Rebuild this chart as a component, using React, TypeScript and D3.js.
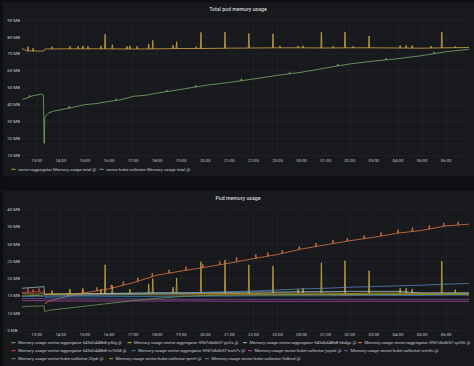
import React from "react";
import * as d3 from "d3";

const W = 474;
const H = 366;

// ---------- time axis (hours after midnight of day 1; 24+ = next day) ----------
const startHour = 12.39;
const endHour = 30.97;

// ---------- top panel: Total pod memory usage ----------
const topTickValues = [10, 20, 30, 40, 50, 60, 70, 80, 90];

const aggTotalHours = [12.39, 12.5, 12.56, 13.0, 13.3, 13.34, 14, 15, 16, 17, 18, 19, 20, 21, 22, 23, 24, 25, 26, 27, 28, 29, 30, 30.95];
const aggTotalValues = [73.0, 72.6, 71.8, 71.7, 71.7, 72.9, 73.0, 73.0, 73.0, 72.9, 73.0, 73.2, 73.2, 73.4, 73.5, 73.6, 73.6, 73.5, 73.6, 73.6, 73.5, 73.4, 73.6, 73.8];
// [hour, base, peak]
const aggTotalSpikes: [number, number, number][] = [
  [12.64, 72.0, 74.3], [12.85, 71.7, 73.4], [13.64, 73.0, 74.3], [14.38, 73.0, 74.5], [14.72, 73.0, 74.5],
  [14.92, 73.0, 74.8], [15.13, 73.0, 74.5], [15.67, 73.0, 74.8], [15.84, 73.0, 81.7], [16.14, 73.0, 75.4],
  [16.75, 72.9, 74.5], [16.87, 72.9, 74.8], [17.17, 72.9, 74.6], [17.65, 73.0, 75.9], [17.82, 73.0, 78.0],
  [18.66, 73.1, 75.2], [18.81, 73.1, 77.2], [19.62, 73.2, 74.3], [19.82, 73.2, 82.7], [20.82, 73.3, 82.9],
  [21.81, 73.5, 82.1], [22.81, 73.6, 81.9], [23.1, 73.6, 74.7], [23.85, 73.6, 74.8], [24.06, 73.6, 74.8],
  [24.82, 73.5, 82.9], [25.31, 73.5, 74.6], [25.8, 73.6, 83.0], [26.14, 73.6, 74.5], [26.8, 73.6, 80.6],
  [28.09, 73.5, 75.0], [28.34, 73.5, 75.0], [28.59, 73.4, 75.0], [29.38, 73.5, 74.7], [29.82, 73.5, 82.9],
  [30.38, 73.7, 74.5],
];

const kubeTotalHours = [12.39, 12.6, 12.8, 13.0, 13.2, 13.28, 13.31, 13.34, 13.5, 13.7, 14, 14.5, 15, 15.5, 16, 16.5, 17, 17.5, 18, 19, 20, 21, 22, 23, 24, 25, 26, 27, 28, 29, 30, 30.95];
const kubeTotalValues = [43.2, 44.0, 45.2, 45.8, 46.3, 45.8, 17.2, 33.0, 35.2, 36.3, 37.1, 38.5, 40.1, 40.8, 42.0, 43.0, 45.0, 45.6, 46.9, 49.1, 51.5, 53.2, 55.2, 57.4, 59.2, 61.7, 64.1, 65.8, 67.2, 69.0, 71.3, 72.7];
// [hour, base, peak]
const kubeTotalSpikes: [number, number, number][] = [
  [12.7, 44.6, 45.6], [14.35, 38.0, 39.2], [16.3, 42.6, 43.6], [18.4, 47.8, 48.8], [19.6, 50.5, 51.5],
  [21.5, 54.2, 55.4], [23.5, 58.3, 59.4], [25.5, 62.9, 64.0], [27.5, 66.5, 67.6], [29.5, 70.1, 71.2],
];

const topLegendNames = ["vector-aggregator Memory usage total @", "vector-kube-collector Memory usage total @"];
const topColors = ["#cfa647", "#7ca86a"];

// ---------- bottom panel: Pod memory usage ----------
const bottomTickValues = [5, 10, 15, 20, 25, 30, 35, 40];

const preHours = [12.39, 12.6, 12.8, 13.0, 13.2, 13.3];
const postHours = [13.33, 13.5, 14, 15, 16, 17, 18, 19, 20, 21, 22, 23, 24, 25, 26, 27, 28, 29, 30, 30.95];

const N = null;
const p5fg = [15.0, 15.0, 15.1, 15.1, 15.0, 15.0, N, N, N, N, N, N, N, N, N, N, N, N, N, N, N, N, N, N, N, N];
const gn2s = [N, N, N, N, N, N, 15.5, 15.6, 15.6, 15.6, 15.6, 15.6, 15.7, 15.7, 15.7, 15.7, 15.7, 15.8, 15.8, 15.8, 15.7, 15.8, 15.8, 15.8, 15.8, 15.8];
const hb4gc = [17.2, 17.3, 17.4, 17.5, 17.6, 17.7, 15.3, 15.4, 15.5, 15.6, 15.7, 15.8, 15.9, 15.9, 16.0, 16.0, 16.1, 16.1, 16.2, 16.2, 16.3, 16.3, 16.3, 15.8, 15.8, 15.8];
const qzf56 = [N, N, N, N, N, N, 12.6, 13.4, 14.4, 15.9, 17.0, 18.8, 21.0, 22.2, 23.3, 24.5, 25.8, 27.0, 28.6, 29.8, 31.0, 32.0, 33.2, 34.0, 35.3, 35.8];
const m7b58 = [16.0, 16.1, 16.0, 16.2, 16.1, 16.2, N, N, N, N, N, N, N, N, N, N, N, N, N, N, N, N, N, N, N, N];
const kwh7v = [N, N, N, N, N, N, 14.6, 14.6, 14.7, 14.7, 14.8, 14.8, 14.8, 14.9, 14.9, 14.9, 15.0, 15.0, 15.0, 15.0, 15.1, 15.1, 15.1, 15.1, 15.2, 15.2];
const jwpsk = [13.6, 13.6, 13.6, 13.6, 13.6, 13.6, 13.5, 13.5, 13.5, 13.5, 13.5, 13.5, 13.5, 13.5, 13.5, 13.4, 13.4, 13.4, 13.4, 13.4, 13.4, 13.4, 13.4, 13.4, 13.4, 13.4];
const wmffc = [14.2, 14.2, 14.2, 14.2, 14.2, 14.2, 14.1, 14.1, 14.1, 14.1, 14.1, 14.1, 14.0, 14.0, 14.0, 14.0, 14.0, 14.0, 14.0, 14.0, 14.0, 14.0, 14.0, 14.0, 14.0, 14.0];
const lgdr2 = [11.8, 11.9, 12.0, 12.0, 12.1, 12.1, 10.4, 10.8, 11.2, 12.0, 12.8, 13.6, 14.3, 14.8, 15.1, 15.2, 15.3, 15.3, 15.4, 15.4, 15.4, 15.5, 15.5, 15.5, 15.6, 15.6];
const ipmtf = [15.6, 15.6, 15.5, 15.5, 15.6, 15.6, 15.3, 15.3, 15.3, 15.3, 15.3, 15.3, 15.3, 15.3, 15.3, 15.3, 15.3, 15.3, 15.3, 15.3, 15.3, 15.4, 15.4, 15.4, 15.4, 15.4];
const x8md5 = [14.8, 14.8, 14.8, 14.9, 14.9, 14.9, 14.9, 14.9, 15.0, 15.1, 15.3, 15.4, 15.6, 15.8, 16.0, 16.2, 16.4, 16.7, 17.0, 17.2, 17.5, 17.7, 17.9, 18.1, 18.4, 18.6];

const gn2sSpikes: [number, number, number][] = [
  [13.64, 15.6, 16.6], [14.38, 15.6, 17.0], [14.92, 15.6, 17.2], [15.67, 15.6, 17.0], [15.84, 15.6, 24.0],
  [16.14, 15.6, 18.0], [16.87, 15.6, 17.0], [17.65, 15.7, 18.5], [17.82, 15.7, 20.0], [18.66, 15.7, 17.5],
  [18.81, 15.7, 20.2], [19.82, 15.7, 24.9], [20.82, 15.7, 25.4], [21.81, 15.7, 24.0], [22.81, 15.8, 23.7],
  [23.85, 15.8, 17.0], [24.06, 15.8, 17.2], [24.82, 15.8, 24.6], [25.8, 15.7, 25.2], [26.8, 15.8, 22.3],
  [28.09, 15.8, 17.2], [28.34, 15.8, 17.2], [28.59, 15.8, 17.0], [29.82, 15.8, 25.1], [30.38, 15.8, 16.8],
];
const qzf56Spikes: [number, number, number][] = [
  [14.3, 14.9, 15.9], [14.9, 15.8, 16.8], [15.5, 16.4, 17.5], [16.1, 17.2, 18.2], [16.6, 18.1, 19.2],
  [17.2, 19.2, 20.3], [17.8, 20.6, 21.6], [18.5, 21.6, 22.6], [19.2, 22.4, 23.5], [19.9, 23.2, 24.2],
  [20.6, 24.0, 25.0], [21.3, 24.9, 26.2], [22.1, 25.9, 27.1], [22.6, 26.5, 27.6], [23.2, 27.3, 28.3],
  [23.9, 28.4, 29.4], [24.6, 29.3, 30.4], [25.3, 30.2, 31.2], [25.9, 30.9, 31.8], [26.6, 31.6, 32.6],
  [27.3, 32.4, 33.4], [28.0, 33.2, 34.2], [28.6, 33.7, 34.8], [29.3, 34.4, 35.5], [29.9, 35.2, 36.2],
  [30.5, 35.6, 36.5],
];
const m7b58Spikes: [number, number, number][] = [
  [12.64, 16.0, 17.4], [12.85, 16.0, 17.0], [13.1, 16.2, 17.2],
];

const podNames = [
  "Memory usage vector-aggregator-545d6448b8-p5fg @",
  "Memory usage vector-aggregator-5967dbdb57-gn2s @",
  "Memory usage vector-aggregator-545d6448b8-hb4gc @",
  "Memory usage vector-aggregator-5967dbdb57-qzf56 @",
  "Memory usage vector-aggregator-545d6448b8-m7b58 @",
  "Memory usage vector-aggregator-5967dbdb57-kwh7v @",
  "Memory usage vector-kube-collector-jwpsk @",
  "Memory usage vector-kube-collector-wmffc @",
  "Memory usage vector-kube-collector-2lgdr @",
  "Memory usage vector-kube-collector-ipmtf @",
  "Memory usage vector-kube-collector-5x8md @",
];
const podColors = ["#7EB26D", "#d7b03c", "#9fc9cf", "#e47b45", "#E24D42", "#3a7fc0", "#BA43A9", "#705DA0", "#6f9e58", "#b9982a", "#5a88bd"];
const podSeries = [p5fg, gn2s, hb4gc, qzf56, m7b58, kwh7v, jwpsk, wmffc, lgdr2, ipmtf, x8md5];
const podSpikes: Record<number, [number, number, number][]> = { 1: gn2sSpikes, 3: qzf56Spikes, 4: m7b58Spikes };

// ---------- layout ----------
const PLOT_L = 22;
const PLOT_R = 469.5;
const topLegendX = [11.5, 99.5];
const bottomLegendX = [
  [11.5, 127.5, 243, 358],
  [11.5, 131.5, 248, 344],
  [11.5, 109, 205],
];
const bottomLegendY = [342.7, 350.7, 358.7];

const baseTime = new Date(2021, 5, 1, 0, 0, 0).getTime();
const toDate = (h: number) => new Date(baseTime + h * 3600000);

const GRID = "rgba(204,204,220,0.09)";
const TEXT = "#c3c6cc";
const FONT = "Roboto, 'Noto Sans', sans-serif";

export default function App() {
  const x = d3.scaleTime().domain([toDate(startHour), toDate(endHour)]).range([PLOT_L, PLOT_R]);
  const hourTicks = x.ticks(d3.timeHour.every(1)!);
  const fmt = d3.timeFormat("%H:%M");

  const yTop = d3.scaleLinear().domain([10, 90]).range([155.7, 20]);
  const yBot = d3.scaleLinear().domain([5, 40]).range([330.3, 209.7]);

  const mkLine = (y: d3.ScaleLinear<number, number>) =>
    d3
      .line<[number, number | null]>()
      .defined((d) => d[1] != null)
      .x((d) => x(toDate(d[0])))
      .y((d) => y(d[1] as number));

  const spikePath = (y: d3.ScaleLinear<number, number>, spikes: [number, number, number][]) =>
    spikes
      .map(([h, b, p]) => `M${x(toDate(h - 0.025))},${y(b)}L${x(toDate(h))},${y(p)}L${x(toDate(h + 0.025))},${y(b)}`)
      .join("");

  const lineTop = mkLine(yTop);
  const lineBot = mkLine(yBot);
  const bottomHours = [...preHours, ...postHours];

  const grid = (y: d3.ScaleLinear<number, number>, ticks: number[], yTopPx: number, yBotPx: number) => (
    <g>
      {ticks.map((t) => (
        <line key={"h" + t} x1={PLOT_L} x2={PLOT_R} y1={y(t)} y2={y(t)} stroke={GRID} strokeWidth={0.6} />
      ))}
      {hourTicks.map((t, i) => (
        <line key={"v" + i} x1={x(t)} x2={x(t)} y1={yTopPx} y2={yBotPx} stroke={GRID} strokeWidth={0.6} />
      ))}
      {ticks.map((t) => (
        <text key={"l" + t} x={7.3} y={y(t)} dy="0.35em" fontSize={4.4} fill={TEXT} fontFamily={FONT}>
          {t} MB
        </text>
      ))}
    </g>
  );

  const xLabels = (yPx: number) =>
    hourTicks.map((t, i) => (
      <text key={"x" + i} x={x(t)} y={yPx} dy="0.35em" textAnchor="middle" fontSize={4.3} fill={TEXT} fontFamily={FONT}>
        {fmt(t)}
      </text>
    ));

  const legendItem = (key: string, lx: number, ly: number, color: string, label: string) => (
    <g key={key}>
      <line x1={lx} x2={lx + 4} y1={ly} y2={ly} stroke={color} strokeWidth={1} />
      <text x={lx + 6.5} y={ly} dy="0.35em" fontSize={4.3} fill={TEXT} fontFamily={FONT}>
        {label}
      </text>
    </g>
  );

  let podIdx = 0;
  const bottomLegend: React.ReactNode[] = [];
  bottomLegendX.forEach((row, r) => {
    row.forEach((lx) => {
      const i = podIdx++;
      bottomLegend.push(legendItem("bl" + i, lx, bottomLegendY[r], podColors[i], podNames[i]));
    });
  });

  return (
    <svg width={W} height={H} style={{ position: "absolute", left: 0, top: 0, display: "block" }}>
      <rect x={0} y={0} width={W} height={H} fill="#0e0f12" />
      {/* top panel */}
      <rect x={3} y={2.5} width={W - 3} height={174} fill="#17191d" />
      <text x={238} y={9} dy="0.35em" textAnchor="middle" fontSize={5.2} fill="#d8d9da" fontFamily={FONT} fontWeight={500}>
        Total pod memory usage
      </text>
      {grid(yTop, topTickValues, 20, 155.7)}
      {xLabels(160)}
      <path
        d={lineTop(kubeTotalHours.map((h, i) => [h, kubeTotalValues[i]] as [number, number]))!}
        fill="none"
        stroke={topColors[1]}
        strokeWidth={0.8}
      />
      <path d={spikePath(yTop, kubeTotalSpikes)} fill="none" stroke={topColors[1]} strokeWidth={0.8} />
      <path
        d={lineTop(aggTotalHours.map((h, i) => [h, aggTotalValues[i]] as [number, number]))!}
        fill="none"
        stroke={topColors[0]}
        strokeWidth={0.8}
      />
      <path d={spikePath(yTop, aggTotalSpikes)} fill="none" stroke={topColors[0]} strokeWidth={0.8} />
      {topLegendNames.map((n, i) => legendItem("tl" + i, topLegendX[i], 169.3, topColors[i], n))}

      {/* bottom panel */}
      <rect x={3} y={191} width={W - 3} height={H - 191} fill="#17191d" />
      <text x={238} y={198.3} dy="0.35em" textAnchor="middle" fontSize={5.2} fill="#d8d9da" fontFamily={FONT} fontWeight={500}>
        Pod memory usage
      </text>
      {grid(yBot, bottomTickValues, 209.7, 330.3)}
      {xLabels(334)}
      {podSeries.map((vals, i) => (
        <g key={"s" + i}>
          <path
            d={lineBot(bottomHours.map((h, j) => [h, vals[j]] as [number, number | null]))!}
            fill="none"
            stroke={podColors[i]}
            strokeWidth={0.75}
          />
          {podSpikes[i] && <path d={spikePath(yBot, podSpikes[i])} fill="none" stroke={podColors[i]} strokeWidth={0.75} />}
        </g>
      ))}
      {bottomLegend}
    </svg>
  );
}
